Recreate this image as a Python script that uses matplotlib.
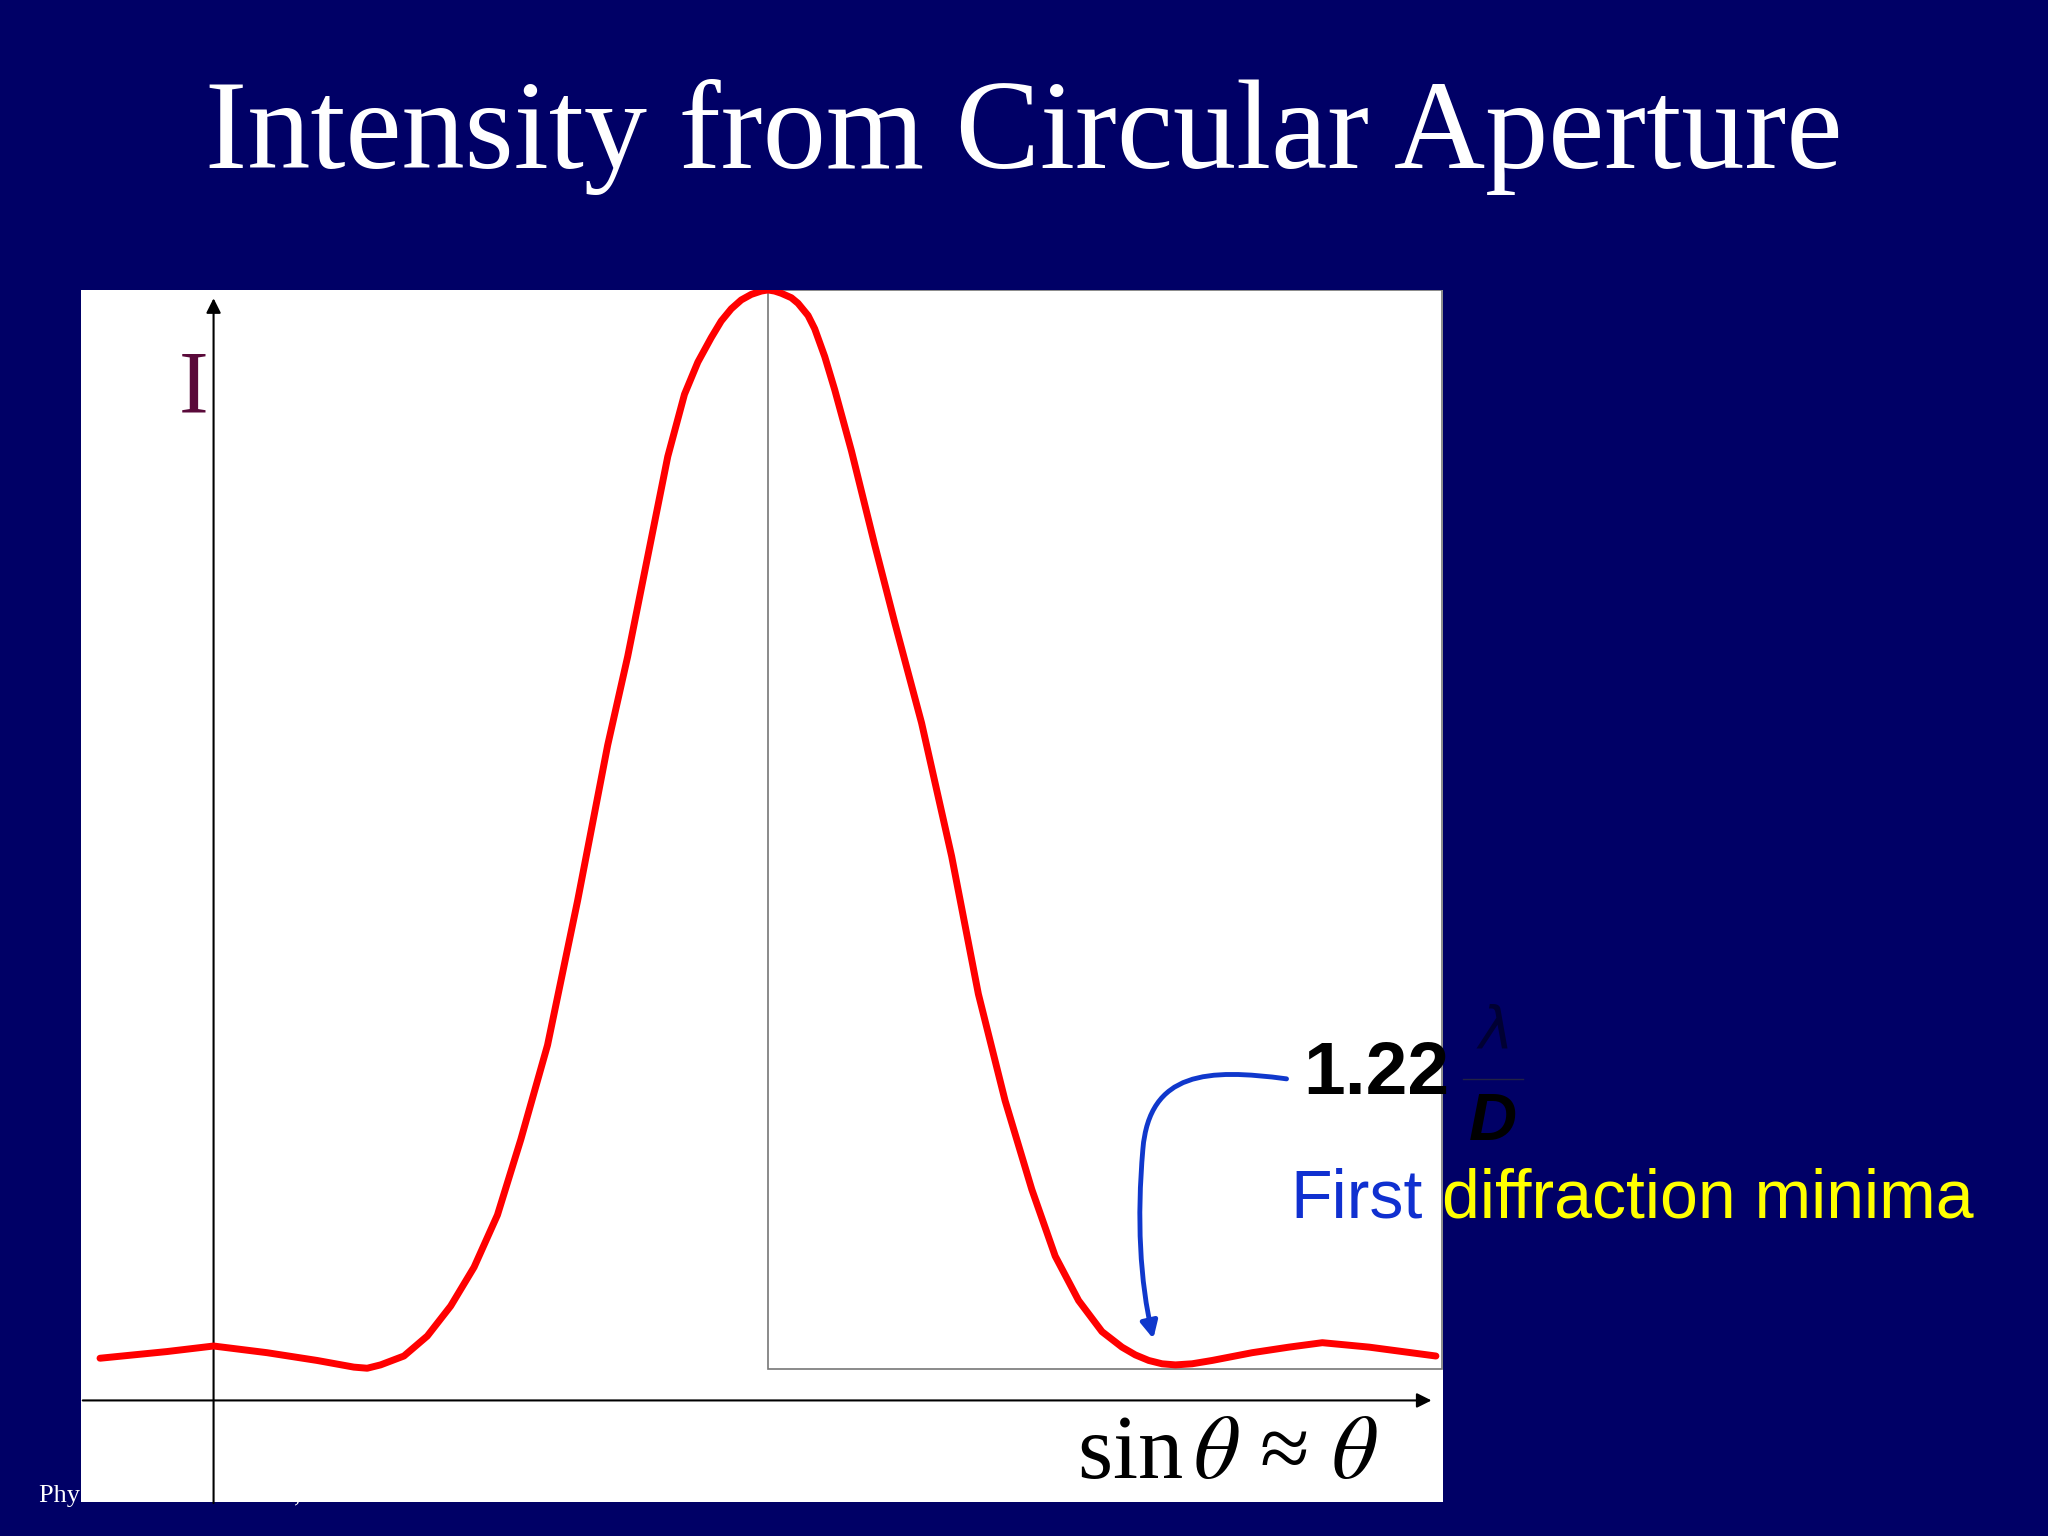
import numpy as np
import matplotlib
matplotlib.use("Agg")
import matplotlib.pyplot as plt
from matplotlib.path import Path
from matplotlib.patches import FancyArrowPatch, Rectangle

# --------------------- data ---------------------
# x in units of lambda/D (first minimum at 1.22), intensity normalised to the peak
sin_theta = [-2.00, -1.80, -1.66, -1.50, -1.35, -1.24, -1.20, -1.16, -1.09, -1.02,
             -0.95, -0.88, -0.81, -0.74, -0.66, -0.57, -0.48, -0.42, -0.36, -0.30,
             -0.25, -0.21, -0.17, -0.14, -0.11, -0.08, -0.05, -0.02, 0.00, 0.02,
             0.04, 0.07, 0.09, 0.12, 0.14, 0.17, 0.20, 0.25, 0.32, 0.38, 0.46,
             0.55, 0.63, 0.71, 0.79, 0.86, 0.93, 1.00, 1.06, 1.10, 1.14, 1.18,
             1.22, 1.27, 1.33, 1.45, 1.56, 1.66, 1.80, 2.00]
intensity = [0.038, 0.044, 0.049, 0.043, 0.036, 0.030, 0.029, 0.032, 0.040, 0.058,
             0.085, 0.120, 0.167, 0.235, 0.320, 0.450, 0.590, 0.670, 0.760, 0.850,
             0.906, 0.935, 0.957, 0.972, 0.983, 0.991, 0.996, 0.999, 1.000, 0.999,
             0.997, 0.993, 0.988, 0.977, 0.965, 0.940, 0.910, 0.855, 0.770, 0.700,
             0.610, 0.490, 0.366, 0.270, 0.190, 0.130, 0.090, 0.062, 0.048, 0.041,
             0.036, 0.033, 0.032, 0.033, 0.036, 0.043, 0.048, 0.052, 0.048, 0.040]
first_min = 1.22

W, H = 1568, 1176  # slide layout units
bg = "#000066"

fig = plt.figure(figsize=(20.48, 15.36), dpi=100, facecolor=bg)

# footer sits behind the white panel
fig.text(30 / W, 1 - 1145 / H, "Physics 102: Lecture 21, Slide 19", color="white",
         family="Liberation Serif", fontsize=19, va="center", zorder=0)

ax = fig.add_axes([62 / W, 1 - 1150 / H, 1043 / W, 928 / H], zorder=1)
ax.set_facecolor("white")
ax.set_xlim(-2.057, 2.022)
ax.set_ylim(-0.0915, 1.0)
for s in ax.spines.values():
    s.set_visible(False)
ax.set_xticks([])
ax.set_yticks([])

# box from the peak to the right edge
ax.add_patch(Rectangle((0, 0.028), 2.017, 0.972, fill=False, edgecolor="#777777", lw=1.2))
# axes with arrows
ax.annotate("", xy=(1.995, 0), xytext=(-2.06, 0),
            arrowprops=dict(arrowstyle="-|>", color="black", lw=1.5, mutation_scale=22))
ax.annotate("", xy=(-1.66, 0.995), xytext=(-1.66, -0.095),
            arrowprops=dict(arrowstyle="-|>", color="black", lw=1.5, mutation_scale=22))

ax.plot(sin_theta, intensity, color="#ff0000", lw=5, solid_joinstyle="round",
        solid_capstyle="round", zorder=3)

ax.text(-1.72, 0.91, "I", color="#5a0a3a", family="Liberation Serif", fontsize=64,
        ha="center", va="center")
ax.text(1.377, -0.05, r"sin$\,\theta$ ≈ $\theta$", color="black", family="Liberation Serif",
        fontsize=65, ha="center", va="center", math_fontfamily="stix")

# overlay in slide units for annotations
ov = fig.add_axes([0, 0, 1, 1], zorder=5)
ov.set_xlim(0, W)
ov.set_ylim(H, 0)
ov.axis("off")
ov.patch.set_alpha(0)

ov.text(784, 105, "Intensity from Circular Aperture", color="white",
        family="Liberation Serif", fontsize=91, ha="center", va="center")

ov.text(998, 823, "1.22", color="black", family="Liberation Sans", weight="bold",
        fontsize=54, ha="left", va="center")
ov.text(1143, 790, r"$\lambda$", color="#000033", fontsize=42, ha="center", va="center")
ov.plot([1120, 1166], [826, 826], color="#222244", lw=1)
ov.text(1143, 860, "D", color="black", family="Liberation Sans", weight="bold",
        style="italic", fontsize=48, ha="center", va="center")
ov.text(988, 918, "First", color="#1030d0", family="Liberation Sans", fontsize=49,
        ha="left", va="center")
ov.text(1104, 918, "diffraction minima", color="#ffff00", family="Liberation Sans",
        fontsize=49, ha="left", va="center")

verts = [(985, 826), (925, 818), (880, 820), (875, 880), (868, 960), (883, 1025)]
codes = [Path.MOVETO, Path.CURVE4, Path.CURVE4, Path.CURVE4, Path.CURVE3, Path.CURVE3]
arrow = FancyArrowPatch(path=Path(verts, codes), arrowstyle="-|>", mutation_scale=25,
                        color="#1038cc", lw=3.5)
ov.add_patch(arrow)

fig.savefig("out.png", dpi=100, facecolor=bg)
